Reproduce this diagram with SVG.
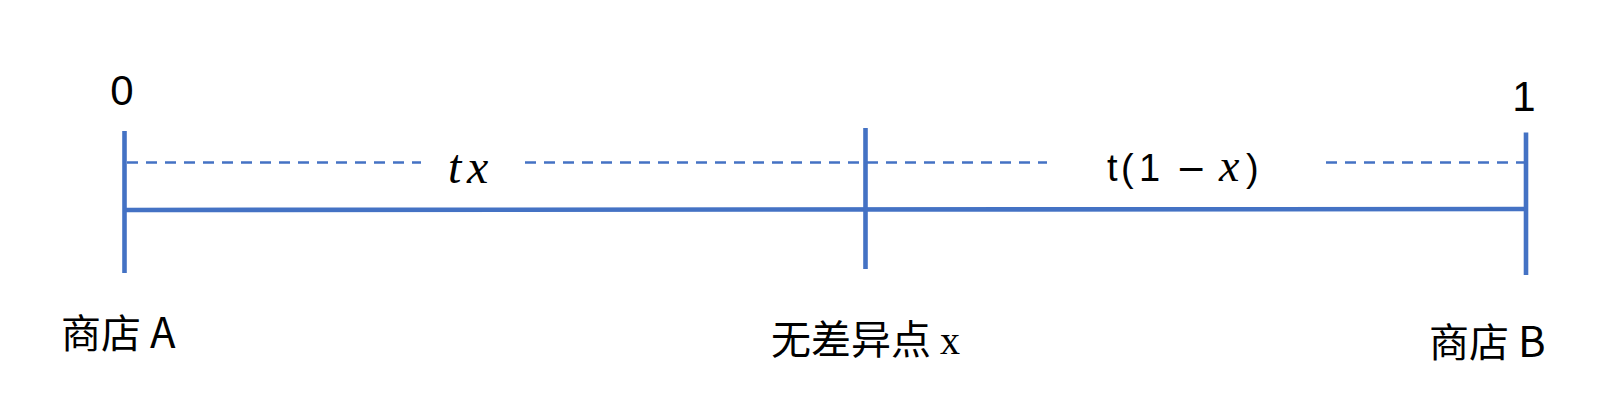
<svg xmlns="http://www.w3.org/2000/svg" width="1605" height="411" viewBox="0 0 1605 411">
  <style>
    .solid { stroke: #4472C4; stroke-width: 4.6; fill: none; }
    .dash { stroke: #4472C4; stroke-width: 2.6; fill: none; stroke-dasharray: 11 8; }
    .num { font-family: "Liberation Sans", "DejaVu Sans", sans-serif; font-size: 42px; fill: #000; }
    .lbl { font-family: "Noto Sans CJK SC", "Liberation Sans", sans-serif; font-size: 40px; fill: #000; }
    .mathi { font-family: "Liberation Serif", "DejaVu Serif", serif; font-style: italic; fill: #000; }
    .maths { font-family: "Liberation Sans", "DejaVu Sans", sans-serif; fill: #000; }
  </style>
  <rect width="1605" height="411" fill="#fff"/>
  <g id="connectors">
    <line class="solid" x1="124" y1="210" x2="1526" y2="209"/>
    <line class="dash" x1="127" y1="162.5" x2="421" y2="162.5"/>
    <line class="dash" x1="525" y1="162.5" x2="1047" y2="162.5"/>
    <line class="dash" x1="1326" y1="162.5" x2="1524" y2="162.5"/>
  </g>
  <g id="storeA">
    <line class="solid" x1="124.5" y1="131" x2="124.5" y2="273"/>
    <text class="num" x="122" y="105" text-anchor="middle">0</text>
    <text class="lbl" x="61" y="348">商店 <tspan font-size="42">A</tspan></text>
  </g>
  <g id="pointX">
    <line class="solid" x1="865.5" y1="128" x2="865.5" y2="269"/>
    <text class="lbl" x="771" y="354">无差异点 <tspan font-family="Liberation Serif, serif">x</tspan></text>
  </g>
  <g id="storeB">
    <line class="solid" x1="1526" y1="132.5" x2="1526" y2="275"/>
    <text class="num" x="1524" y="110.5" text-anchor="middle">1</text>
    <text class="lbl" x="1429" y="357">商店 <tspan font-size="42">B</tspan></text>
  </g>
  <g id="label-tx">
    <text class="mathi" font-size="48" y="183"><tspan x="448">t</tspan><tspan x="467">x</tspan></text>
  </g>
  <g id="label-t1x">
    <text font-size="38" y="181"><tspan class="maths" x="1107">t</tspan><tspan class="maths" x="1121">(</tspan><tspan class="maths" x="1139">1</tspan><tspan x="1176" font-family="DejaVu Sans, sans-serif" font-size="36">−</tspan><tspan class="mathi" font-size="46" x="1219">x</tspan><tspan class="maths" x="1246">)</tspan></text>
  </g>
</svg>
